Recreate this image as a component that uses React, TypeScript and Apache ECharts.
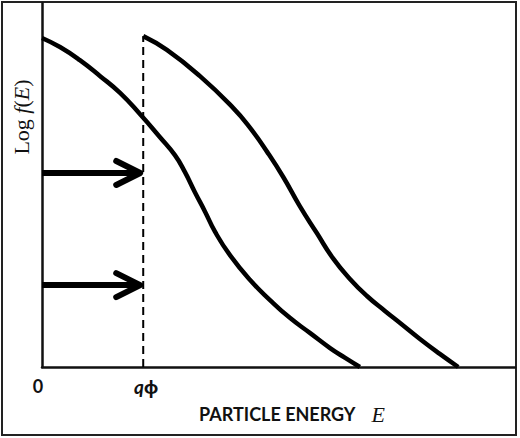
import React, { useEffect, useRef } from "react";
import * as echarts from "echarts";

// Energy axis (arbitrary units) and log f(E) axis (arbitrary units)
const X_MAX = 10;
const Y_MAX = 10;
const qPhi = 2.14;

// Distribution without bias (left curve)
const curveLow: [number, number][] = [
  [0, 9.04], [0.38, 8.79], [0.8, 8.43], [1.23, 7.99], [1.65, 7.53],
  [2.07, 6.95], [2.49, 6.32], [2.81, 5.82], [3.02, 5.36], [3.23, 4.81],
  [3.45, 4.26], [3.66, 3.71], [3.97, 3.08], [4.4, 2.39], [4.82, 1.84],
  [5.24, 1.35], [5.67, 0.93], [6.09, 0.52], [6.41, 0.25], [6.72, 0],
];

// Distribution shifted by qϕ (right curve)
const curveHigh: [number, number][] = [
  [2.14, 9.09], [2.64, 8.71], [3.34, 7.99], [4.04, 7.12], [4.4, 6.57],
  [4.76, 5.91], [5.1, 5.22], [5.45, 4.42], [5.81, 3.68], [6.15, 2.99],
  [6.51, 2.42], [6.87, 1.95], [7.25, 1.54], [7.57, 1.21], [7.99, 0.77],
  [8.41, 0.36], [8.8, 0],
];

// Arrow levels (log f values where arrows point to qϕ)
const arrowLevels = [5.33, 2.25];

const xTickValues = [0, qPhi];
const xTickLabels = ["{z|0}", "{q|q}{p|ϕ}"];

export default function App() {
  const ref = useRef<HTMLDivElement>(null);
  useEffect(() => {
    document.body.style.margin = "0";
    const chart = echarts.init(ref.current!, null, { renderer: "svg" });
    const axisLine = { show: true, lineStyle: { color: "#111", width: 2.5 } };
    chart.setOption({
      animation: false,
      backgroundColor: "#fff",
      grid: { left: 42, right: 5, top: 3, bottom: 71 },
      xAxis: {
        type: "value",
        min: 0,
        max: X_MAX,
        axisLine,
        axisTick: { show: false },
        splitLine: { show: false },
        axisLabel: {
          customValues: xTickValues,
          margin: 10,
          formatter: (v: number) => xTickLabels[xTickValues.indexOf(v)] ?? "",
          rich: {
            z: { fontFamily: "Lato", fontWeight: "bold", fontSize: 18, color: "#111", padding: [0, 8, 0, 0] },
            q: { fontFamily: "Lato", fontWeight: "bold", fontStyle: "italic", fontSize: 19, color: "#111", padding: [0, 0, 0, 6] },
            p: { fontFamily: "Noto Sans", fontWeight: "bold", fontSize: 18, color: "#111" },
          },
        },
        name: "{a|PARTICLE ENERGY}{e|E}",
        nameLocation: "middle",
        nameGap: 36,
        nameTextStyle: {
          padding: [0, 0, 0, 27],
          rich: {
            a: { fontFamily: "Lato", fontWeight: "bold", fontSize: 18, color: "#111" },
            e: { fontFamily: "Liberation Serif", fontStyle: "italic", fontSize: 22, color: "#111", padding: [0, 0, 0, 16] },
          },
        },
      },
      yAxis: {
        type: "value",
        min: 0,
        max: Y_MAX,
        axisLine,
        axisTick: { show: false },
        axisLabel: { show: false },
        splitLine: { show: false },
        name: "{r|Log }{i|f}{r|(}{i|E}{r|)}",
        nameLocation: "middle",
        nameRotate: 90,
        nameGap: 10,
        nameTextStyle: {
          padding: [0, 0, 0, 136],
          rich: {
            r: { fontFamily: "Liberation Serif", fontSize: 22, color: "#111" },
            i: { fontFamily: "Liberation Serif", fontStyle: "italic", fontSize: 22, color: "#111" },
          },
        },
      },
      graphic: [
        {
          type: "rect",
          shape: { x: 2, y: 2, width: 514, height: 433 },
          style: { fill: "none", stroke: "#222", lineWidth: 2 },
          silent: true,
        },
      ],
      series: [
        {
          type: "line",
          name: "f(E)",
          data: curveLow,
          smooth: 0.5,
          showSymbol: false,
          lineStyle: { color: "#000", width: 4.5 },
        },
        {
          type: "line",
          name: "f(E - qϕ)",
          data: curveHigh,
          smooth: 0.5,
          showSymbol: false,
          lineStyle: { color: "#000", width: 4.5 },
        },
        {
          type: "line",
          name: "qϕ",
          data: [[qPhi, 0], [qPhi, curveHigh[0][1]]],
          showSymbol: false,
          lineStyle: { color: "#000", width: 2, type: [8, 5] },
        },
        {
          type: "custom",
          name: "arrows",
          data: arrowLevels.map((lv) => [0, lv, qPhi]),
          renderItem: (_params: any, api: any) => {
            const s = api.coord([api.value(0), api.value(1)]);
            const e = api.coord([api.value(2), api.value(1)]);
            const tipX = e[0] - 3;
            return {
              type: "group",
              children: [
                {
                  type: "line",
                  shape: { x1: s[0], y1: s[1], x2: tipX - 2, y2: s[1] },
                  style: { stroke: "#000", lineWidth: 6 },
                },
                {
                  type: "polyline",
                  shape: { points: [[tipX - 24, e[1] - 12], [tipX, e[1]], [tipX - 24, e[1] + 12]] },
                  style: { stroke: "#000", fill: "none", lineWidth: 6, lineCap: "round", lineJoin: "round" },
                },
              ],
            };
          },
        },
      ],
    });
    return () => chart.dispose();
  }, []);
  return (
    <div
      ref={ref}
      style={{ position: "fixed", left: 0, top: 0, width: 520, height: 438 }}
    />
  );
}
